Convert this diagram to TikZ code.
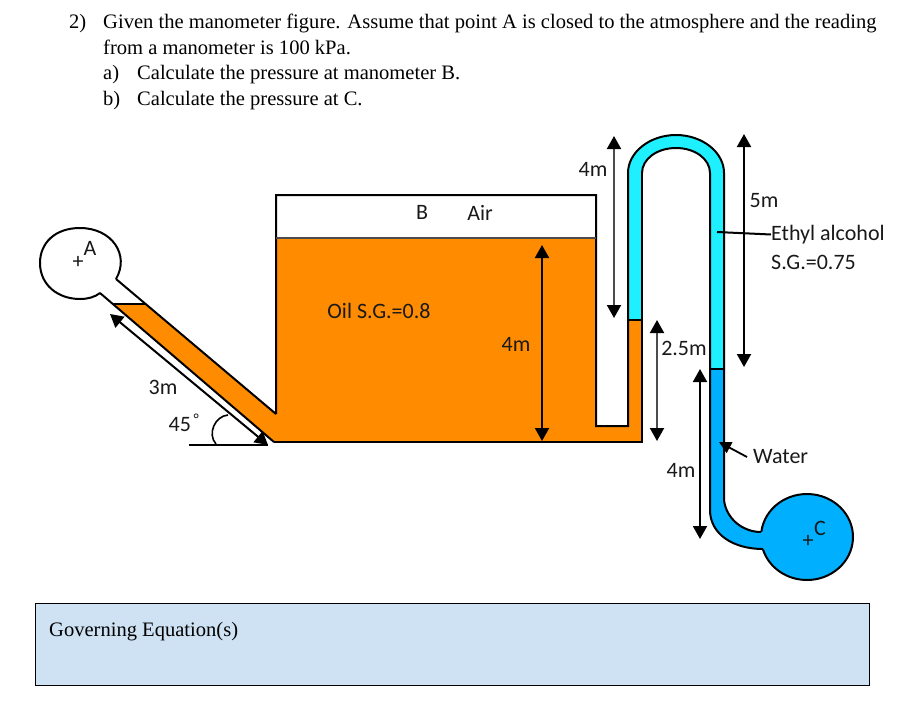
\documentclass[tikz,border=0pt]{standalone}
\usepackage{fontspec}
\setmainfont{Liberation Serif}
\newfontfamily\lab{Carlito}
\usetikzlibrary{arrows.meta}
\definecolor{oil}{HTML}{FF8C00}
\definecolor{alc}{HTML}{1FF0FF}
\definecolor{wat}{HTML}{00B0FF}
\definecolor{panel}{HTML}{CFE2F3}
\tikzset{
  bodytext/.style={anchor=base west,inner sep=0pt,font=\fontsize{20.55}{24}\selectfont},
  labeltext/.style={inner sep=0pt,font=\lab\fontsize{22}{26}\selectfont,text=black!90},
  wall/.style={draw=black,line width=2pt},
  dim/.style={line width=2pt,{Triangle[length=13pt,width=14pt]}-{Triangle[length=13pt,width=14pt]}},
  dimgray/.style={line width=2pt,draw=black!70,{Triangle[length=13pt,width=14pt,color=black]}-{Triangle[length=13pt,width=14pt,color=black]}},
}
\begin{document}
\begin{tikzpicture}[x=1pt,y=-1pt]
\useasboundingbox (0,0) rectangle (913,710);
% question text
\node[bodytext] (q0) at (69,28) {2)};
\node[bodytext] (q1) at (103,28) {Given the manometer figure. Assume that point A is closed to the atmosphere and the reading};
\node[bodytext] (q2) at (103,54) {from a manometer is 100 kPa.};
\node[bodytext] (qa) at (103,79) {a)};
\node[bodytext] (qa2) at (137,79) {Calculate the pressure at manometer B.};
\node[bodytext] (qb) at (103,105) {b)};
\node[bodytext] (qb2) at (137,105) {Calculate the pressure at C.};
% panel
\node[draw=black,line width=1pt,fill=panel,minimum width=834pt,minimum height=82pt,anchor=north west,inner sep=0pt] (panelbox) at (35,603) {};
\node[bodytext] (gov) at (49,636) {Governing Equation(s)};
% liquid fills
\fill[oil] (113,304) -- (145,304) -- (276,414) -- (276,238) -- (596,238) -- (596,426) -- (628,426) -- (628,320) -- (642,320) -- (642,442) -- (274,442) -- cycle;
\fill[alc] (628,320) -- (628,173) .. controls (628,152) and (650,135) .. (676,135) .. controls (702,135) and (724,152) .. (724,173) -- (724,369) -- (710,369) -- (710,173) .. controls (710,159) and (695,148) .. (676,148) .. controls (657,148) and (642,159) .. (642,173) -- (642,320) -- cycle;
\fill[wat] (710,369) -- (724,369) -- (724,500) .. controls (726,518) and (742,532) .. (770,533) -- (770,549) .. controls (733,549) and (710,534) .. (710,510) -- cycle;
\fill[wat] (807,537) ellipse [x radius=46,y radius=43];
% tank
\draw[wall] (276,414) -- (276,195) -- (596,195) -- (596,426) -- (628,426) -- (628,173) .. controls (628,152) and (650,135) .. (676,135) .. controls (702,135) and (724,152) .. (724,173) -- (724,500) .. controls (726,518) and (742,532) .. (761,532);
\draw[wall] (642,173) .. controls (642,159) and (657,148) .. (676,148) .. controls (695,148) and (710,159) .. (710,173) -- (710,510) .. controls (710,534) and (733,549) .. (763,549);
\draw[wall] (642,173) -- (642,442) -- (274,442);
\draw[line width=1.2pt,draw=black!70] (276,238) -- (596,238);
\draw[line width=1.2pt] (628,320) -- (642,320) (710,369) -- (724,369) (113,304) -- (145,304);
% circle C
\draw[wall] (807,537) ++(187:46 and 43) arc [start angle=187,end angle=523,x radius=46,y radius=43];
% incline and circle A
\draw[wall] (116,279) -- (276,414);
\draw[wall] (100,293) -- (274,442);
\draw[wall] (116,279) .. controls (130,255) and (112,228) .. (80,228) .. controls (55,228) and (40,243) .. (40,263) .. controls (40,285) and (58,299) .. (80,299) .. controls (88,299) and (95,297) .. (100,293);
% angle mark
\coordinate (b0) at (189,445);
\coordinate (b1) at (268,445);
\draw[line width=2pt] (b0) -- (b1);
\draw[line width=1.6pt] (228,415) .. controls (215,416) and (207,434) .. (216,444);
% dimension ends
\coordinate (i0) at (110,314); \coordinate (i1) at (268,445);
\coordinate (t0) at (542,245); \coordinate (t1) at (542,441);
\coordinate (u0) at (614,136); \coordinate (u1) at (614,318);
\coordinate (f0) at (744,134); \coordinate (f1) at (744,367);
\coordinate (h0) at (657,320); \coordinate (h1) at (657,441);
\coordinate (w0) at (700,369); \coordinate (w1) at (700,539);
\draw[dim] (i0) -- (i1);
\draw[dim] (t0) -- (t1);
\draw[dimgray] (u0) -- (u1);
\draw[dim] (f0) -- (f1);
\draw[dimgray] (h0) -- (h1);
\draw[dim] (w0) -- (w1);
% labels
\node[labeltext] (lb) at (422,212) {B};
\node[labeltext] (lair) at (480,213) {Air};
\node[labeltext] (loil) at (379,311) {Oil S.G.=0.8};
\node[labeltext] (l4a) at (516,344) {4m};
\node[labeltext] (l4b) at (593,169) {4m};
\node[labeltext] (l5) at (764,201) {5m};
\node[labeltext,anchor=west] (leth) at (771,234.5) {Ethyl alcohol};
\node[labeltext,anchor=west] (lsg) at (771,262) {S.G.=0.75};
\node[labeltext] (l25) at (684,348) {2.5m};
\node[labeltext] (l4c) at (681,470) {4m};
\node[labeltext,anchor=west] (lwat) at (753,457) {Water};
\node[labeltext] (lc) at (820,528) {C};
\node[labeltext] (pc) at (808,541) {+};
\node[labeltext] (la) at (90,248) {A};
\node[labeltext] (pa) at (78,262) {+};
\node[labeltext] (l3) at (163,387) {3m};
\node[labeltext] (l45) at (184,423) {45\textsuperscript{\,\textdegree}};
% leaders
\coordinate (ethend) at (717,232);
\coordinate (watend) at (719,442);
\draw[line width=2pt] (ethend) -- (leth.west);
\draw[line width=1.8pt,-{Triangle[length=12pt,width=12pt]}] (747,457) -- (watend);
\end{tikzpicture}
\end{document}
